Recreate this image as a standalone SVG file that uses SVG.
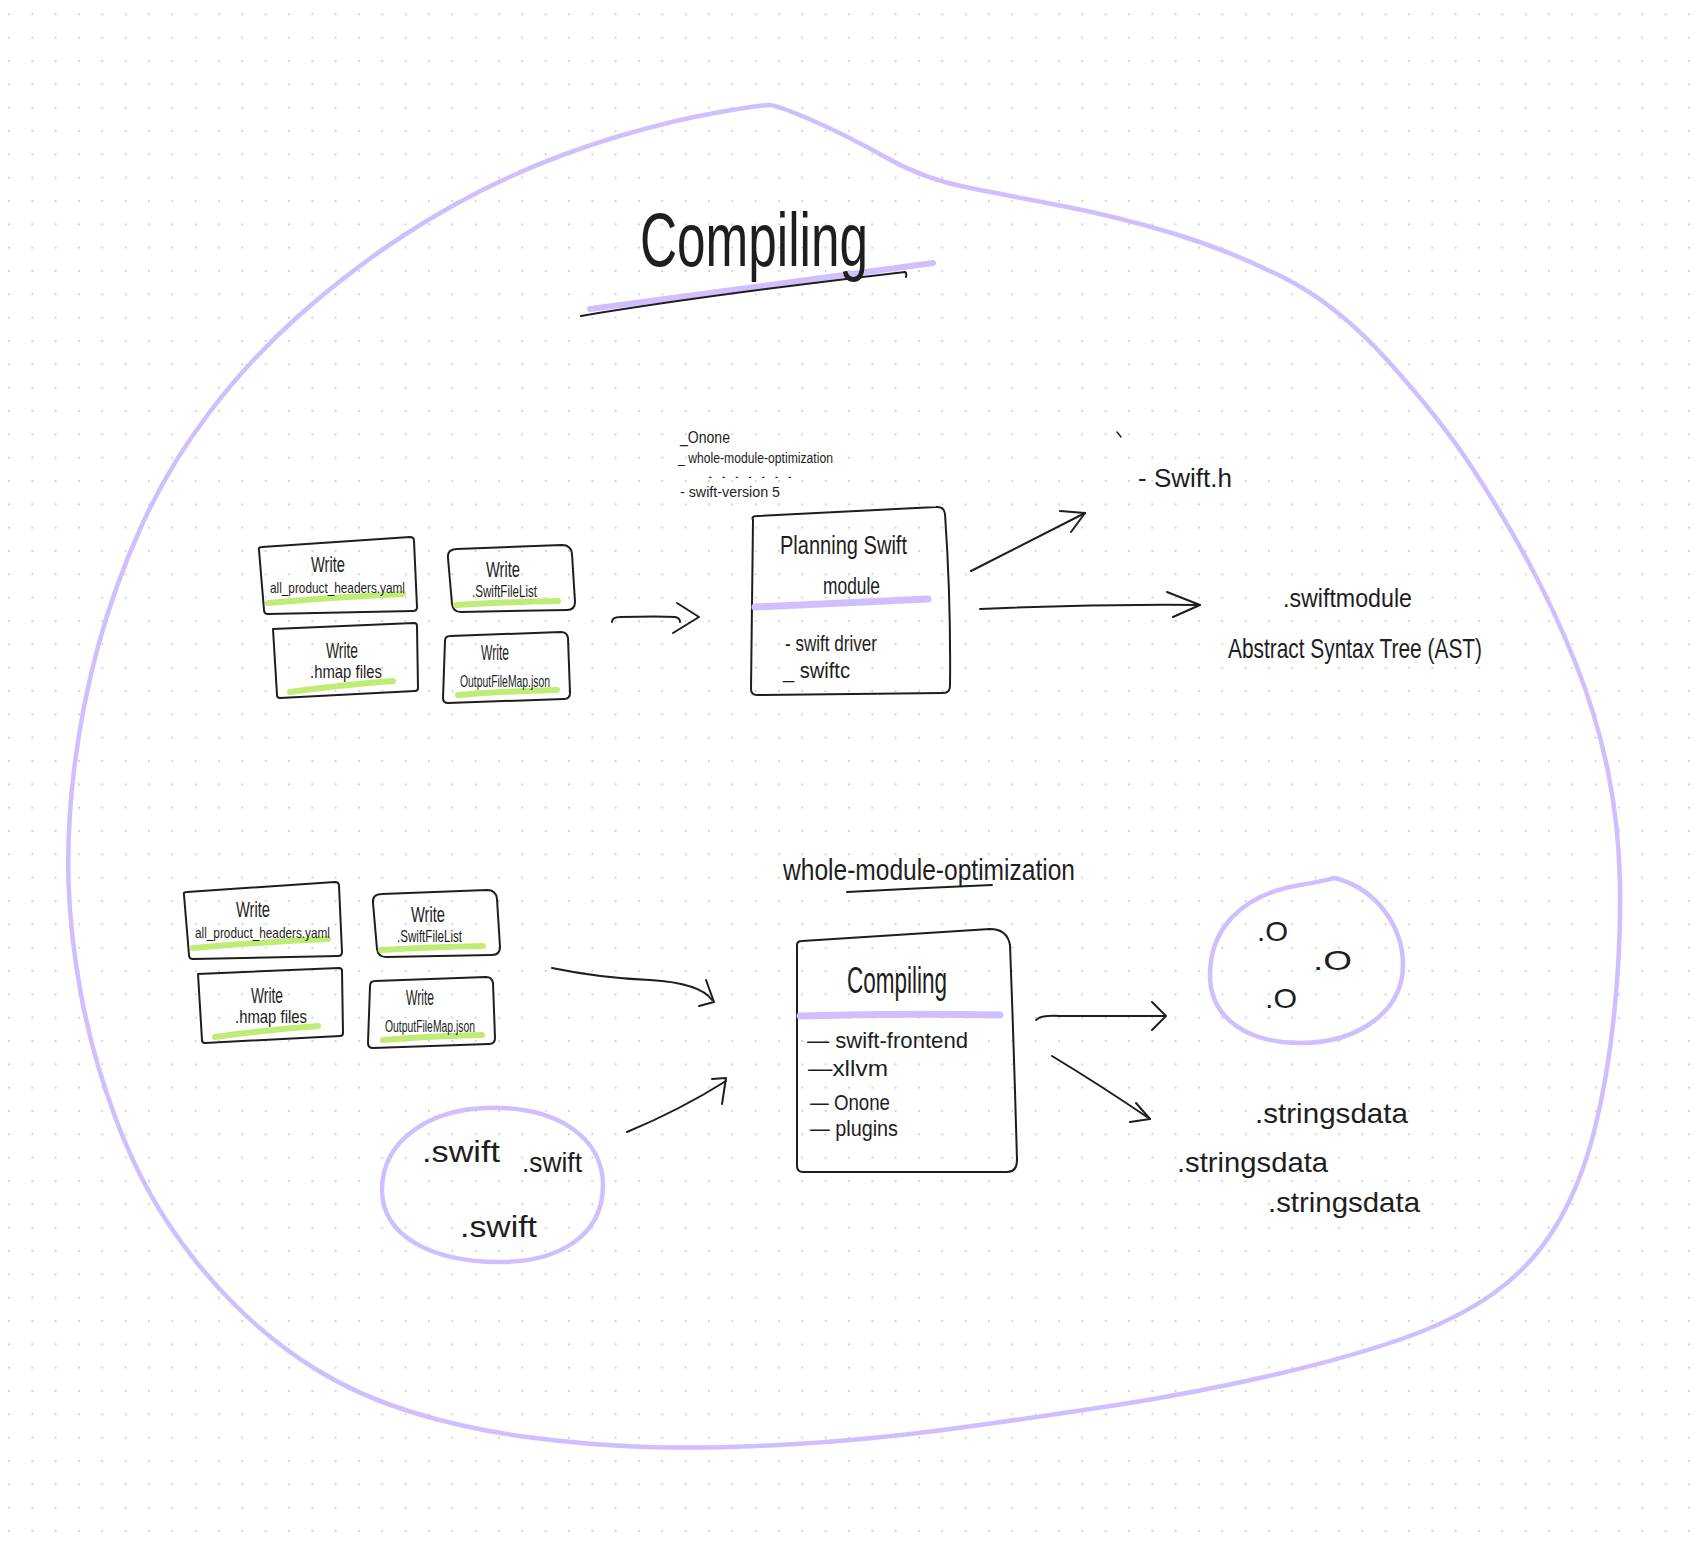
<svg xmlns="http://www.w3.org/2000/svg" width="1704" height="1544" viewBox="0 0 1704 1544">
<defs>
<pattern id="dots" x="8" y="13.333" width="23.3333" height="23.3333" patternUnits="userSpaceOnUse"><circle cx="1" cy="1" r="1.1" fill="#cfcfcf"/></pattern>
</defs>
<style>
.t{font-family:"Liberation Sans","DejaVu Sans",sans-serif;fill:#1e1e1e}
.m{text-anchor:middle}
.box{fill:none;stroke:#1e1e1e;stroke-width:2;stroke-linejoin:round;stroke-linecap:round}
.hg{fill:none;stroke:#c0eb75;stroke-width:6;stroke-linecap:round}
.hp{fill:none;stroke:#d0bfff;stroke-width:7;stroke-linecap:round}
.blob{fill:none;stroke:#d0bfff;stroke-width:4.5;stroke-linecap:round;stroke-linejoin:round}
.conn path{fill:none;stroke:#1e1e1e;stroke-width:2;stroke-linecap:round;stroke-linejoin:round}
.ln{fill:none;stroke:#1e1e1e;stroke-width:2;stroke-linecap:round}
</style>
<rect width="1704" height="1544" fill="#ffffff"/>
<rect width="1704" height="1544" fill="url(#dots)"/>

<g id="outline">
<path class="blob" d="M769 105 Q777 105 812.5 120.5 Q848 136 886 157.5 Q924 179 967.5 187.5 Q1011 196 1065 206.5 Q1119 217 1173.5 233.5 Q1228 250 1282.5 277 Q1337 304 1388.5 361.5 Q1440 419 1470 464.5 Q1500 510 1527 559.5 Q1554 609 1575.5 663 Q1597 717 1608 771.5 Q1619 826 1620 885.5 Q1621 945 1614.5 1010.5 Q1608 1076 1594.5 1130 Q1581 1184 1556.5 1225 Q1532 1266 1494 1293 Q1456 1320 1401.5 1339 Q1347 1358 1271 1375.5 Q1195 1393 1113.5 1405.5 Q1032 1418 950.5 1429 Q869 1440 787.5 1444.5 Q706 1449 646.5 1447 Q587 1445 527 1437 Q467 1429 413 1412.5 Q359 1396 315.5 1369 Q272 1342 234 1304 Q196 1266 166 1220 Q136 1174 114 1114 Q92 1054 81 994.5 Q70 935 68.5 880.5 Q67 826 74.5 766 Q82 706 98 646.5 Q114 587 141 527 Q168 467 209 413 Q250 359 299 315.5 Q348 272 402 236.5 Q456 201 510.5 176.5 Q565 152 619.5 136 Q674 120 717.5 112.5 Q761 105 769 105"/>
</g>

<g id="title">
<path class="hp" style="stroke-width:6" d="M590 309 Q760 286 933 263"/>
<path class="ln" d="M581 316 Q700 296 905 272 Q907 273 906 277"/>
<text class="t" x="640" y="266" font-size="76" textLength="228" lengthAdjust="spacingAndGlyphs">Compiling</text>
</g>

<g id="flags">
<text class="t" x="680" y="443" font-size="16" textLength="50" lengthAdjust="spacingAndGlyphs">_Onone</text>
<text class="t" x="678" y="463" font-size="14" textLength="155" lengthAdjust="spacingAndGlyphs">_ whole-module-optimization</text>
<text class="t" x="707" y="478" font-size="11" textLength="86" lengthAdjust="spacingAndGlyphs">. . . . . . .</text>
<text class="t" x="680" y="497" font-size="15" textLength="100" lengthAdjust="spacingAndGlyphs">- swift-version 5</text>
</g>

<g id="writes-top">
<g id="w1-headers">
<path class="box" d="M259 550 Q258 547 262 547 L410 537 Q414 537 414 541 L417 607 Q417 611 413 611 L268 614 Q264 614 264 610 Z"/>
<path class="hg" d="M268 603 Q335 597 403 594"/>
<text class="t m" x="328" y="572" font-size="22" textLength="34" lengthAdjust="spacingAndGlyphs">Write</text>
<text class="t" x="270" y="593" font-size="15" textLength="135" lengthAdjust="spacingAndGlyphs">all_product_headers.yaml</text>
</g>
<g id="w1-filelist">
<path class="box" d="M457 549 L562 545 Q571 545 572 554 L575 602 Q575 610 567 610 L461 612 Q453 612 452 604 L448 558 Q447 549 457 549 Z"/>
<path class="hg" d="M456 605 Q505 602 558 601"/>
<text class="t m" x="503" y="577" font-size="22" textLength="34" lengthAdjust="spacingAndGlyphs">Write</text>
<text class="t" x="472" y="597" font-size="17" textLength="65" lengthAdjust="spacingAndGlyphs">.SwiftFileList</text>
</g>
<g id="w1-hmap">
<path class="box" d="M273 629 L414 623 Q417 623 417 626 L418 688 Q418 691 415 691 L280 698 Q277 698 277 695 Z"/>
<path class="hg" d="M290 692 Q340 685 393 681"/>
<text class="t m" x="342" y="658" font-size="22" textLength="32" lengthAdjust="spacingAndGlyphs">Write</text>
<text class="t" x="310" y="678" font-size="19" textLength="72" lengthAdjust="spacingAndGlyphs">.hmap  files</text>
</g>
<g id="w1-outputmap">
<path class="box" d="M450 636 L561 632 Q567 632 568 638 L570 693 Q570 699 564 699 L448 703 Q443 703 443 698 L445 641 Q445 636 450 636 Z"/>
<path class="hg" d="M458 695 Q505 691 557 690"/>
<text class="t m" x="495" y="660" font-size="22" textLength="28" lengthAdjust="spacingAndGlyphs">Write</text>
<text class="t" x="460" y="687" font-size="16" textLength="90" lengthAdjust="spacingAndGlyphs">OutputFileMap.json</text>
</g>
</g>

<g id="writes-bottom" transform="translate(-75,345)">
<g id="w2-headers">
<path class="box" d="M259 550 Q258 547 262 547 L410 537 Q414 537 414 541 L417 607 Q417 611 413 611 L268 614 Q264 614 264 610 Z"/>
<path class="hg" d="M268 603 Q335 597 403 594"/>
<text class="t m" x="328" y="572" font-size="22" textLength="34" lengthAdjust="spacingAndGlyphs">Write</text>
<text class="t" x="270" y="593" font-size="15" textLength="135" lengthAdjust="spacingAndGlyphs">all_product_headers.yaml</text>
</g>
<g id="w2-filelist">
<path class="box" d="M457 549 L562 545 Q571 545 572 554 L575 602 Q575 610 567 610 L461 612 Q453 612 452 604 L448 558 Q447 549 457 549 Z"/>
<path class="hg" d="M456 605 Q505 602 558 601"/>
<text class="t m" x="503" y="577" font-size="22" textLength="34" lengthAdjust="spacingAndGlyphs">Write</text>
<text class="t" x="472" y="597" font-size="17" textLength="65" lengthAdjust="spacingAndGlyphs">.SwiftFileList</text>
</g>
<g id="w2-hmap">
<path class="box" d="M273 629 L414 623 Q417 623 417 626 L418 688 Q418 691 415 691 L280 698 Q277 698 277 695 Z"/>
<path class="hg" d="M290 692 Q340 685 393 681"/>
<text class="t m" x="342" y="658" font-size="22" textLength="32" lengthAdjust="spacingAndGlyphs">Write</text>
<text class="t" x="310" y="678" font-size="19" textLength="72" lengthAdjust="spacingAndGlyphs">.hmap  files</text>
</g>
<g id="w2-outputmap">
<path class="box" d="M450 636 L561 632 Q567 632 568 638 L570 693 Q570 699 564 699 L448 703 Q443 703 443 698 L445 641 Q445 636 450 636 Z"/>
<path class="hg" d="M458 695 Q505 691 557 690"/>
<text class="t m" x="495" y="660" font-size="22" textLength="28" lengthAdjust="spacingAndGlyphs">Write</text>
<text class="t" x="460" y="687" font-size="16" textLength="90" lengthAdjust="spacingAndGlyphs">OutputFileMap.json</text>
</g>
</g>

<g id="planning">
<path class="box" d="M753 520 Q751 516 757 516 L936 507 Q944 506 945 514 Q951 600 950 686 Q950 693 943 693 L757 695 Q751 695 751 689 Z"/>
<path class="hp" d="M755 607 L928 599"/>
<text class="t" x="780" y="554" font-size="26" textLength="127" lengthAdjust="spacingAndGlyphs">Planning  Swift</text>
<text class="t" x="823" y="594" font-size="24" textLength="57" lengthAdjust="spacingAndGlyphs">module</text>
<text class="t" x="785" y="651" font-size="22" textLength="92" lengthAdjust="spacingAndGlyphs">- swift driver</text>
<text class="t" x="783" y="678" font-size="22" textLength="67" lengthAdjust="spacingAndGlyphs">_ swiftc</text>
</g>

<g id="swift-h">
<path class="ln" style="stroke-width:1.5" d="M1117 432 L1121 437"/>
<text class="t" x="1138" y="487" font-size="26" textLength="94" lengthAdjust="spacingAndGlyphs">- Swift.h</text>
</g>

<g id="swiftmodule">
<text class="t" x="1283" y="607" font-size="26" textLength="129" lengthAdjust="spacingAndGlyphs">.swiftmodule</text>
<text class="t" x="1228" y="658" font-size="28" textLength="254" lengthAdjust="spacingAndGlyphs">Abstract  Syntax  Tree  (AST)</text>
</g>

<g id="wmo-label">
<text class="t" x="783" y="880" font-size="30" textLength="292" lengthAdjust="spacingAndGlyphs">whole-module-optimization</text>
<path class="ln" d="M847 892 Q920 888 992 885"/>
</g>

<g id="compiling">
<path class="box" d="M797 945 Q797 941 802 941 L990 929 Q1007 929 1010 945 Q1014 1050 1017 1160 Q1017 1172 1007 1172 L803 1172 Q797 1172 797 1166 Z"/>
<path class="hp" d="M800 1016 Q900 1013 1000 1015"/>
<text class="t" x="847" y="993" font-size="36" textLength="100" lengthAdjust="spacingAndGlyphs">Compiling</text>
<text class="t" x="807" y="1048" font-size="22" textLength="161" lengthAdjust="spacingAndGlyphs">— swift-frontend</text>
<text class="t" x="808" y="1076" font-size="22" textLength="80" lengthAdjust="spacingAndGlyphs">—xllvm</text>
<text class="t" x="810" y="1110" font-size="22" textLength="80" lengthAdjust="spacingAndGlyphs">— Onone</text>
<text class="t" x="810" y="1136" font-size="22" textLength="88" lengthAdjust="spacingAndGlyphs">— plugins</text>
</g>

<g id="swift-files">
<path class="blob" d="M485 1108 C560 1105 603 1140 603 1185 C603 1235 560 1262 500 1262 C430 1262 382 1235 382 1190 C382 1140 430 1110 485 1108 Z"/>
<text class="t" x="422" y="1162" font-size="30" textLength="78" lengthAdjust="spacingAndGlyphs">.swift</text>
<text class="t" x="522" y="1172" font-size="28" textLength="60" lengthAdjust="spacingAndGlyphs">.swift</text>
<text class="t" x="460" y="1237" font-size="30" textLength="77" lengthAdjust="spacingAndGlyphs">.swift</text>
</g>

<g id="object-files">
<path class="blob" d="M1335 878 C1380 890 1403 930 1403 965 C1403 1010 1360 1043 1300 1043 C1250 1043 1210 1020 1210 975 C1210 930 1240 895 1300 885 C1315 883 1325 880 1335 878 Z"/>
<text class="t" x="1257" y="941" font-size="28" textLength="31" lengthAdjust="spacingAndGlyphs">.O</text>
<text class="t" x="1313" y="970" font-size="28" textLength="39" lengthAdjust="spacingAndGlyphs">.O</text>
<text class="t" x="1265" y="1008" font-size="28" textLength="32" lengthAdjust="spacingAndGlyphs">.O</text>
</g>

<g id="stringsdata">
<text class="t" x="1255" y="1123" font-size="28" textLength="153" lengthAdjust="spacingAndGlyphs">.stringsdata</text>
<text class="t" x="1177" y="1172" font-size="28" textLength="151" lengthAdjust="spacingAndGlyphs">.stringsdata</text>
<text class="t" x="1268" y="1212" font-size="28" textLength="152" lengthAdjust="spacingAndGlyphs">.stringsdata</text>
</g>

<g id="connectors" class="conn">
<path d="M612 622 Q612 617 620 617 Q660 616 675 617 Q680 618 680 622"/>
<path d="M677 603 L699 617 L673 633"/>
<path d="M971 571 L1085 513"/>
<path d="M1060 511 L1085 513 L1071 532"/>
<path d="M980 609 Q1090 604 1200 605"/>
<path d="M1167 592 L1200 605 L1173 617"/>
<path d="M552 968 Q600 978 650 980 Q700 983 712 1000"/>
<path d="M706 980 L714 1002 L699 1006"/>
<path d="M627 1132 Q680 1110 726 1081"/>
<path d="M712 1079 L726 1078 L722 1104"/>
<path d="M1036 1020 Q1040 1015 1060 1016 L1165 1016"/>
<path d="M1152 1002 L1166 1016 L1152 1030"/>
<path d="M1052 1056 Q1100 1085 1150 1119"/>
<path d="M1136 1103 L1150 1119 L1130 1122"/>
</g>
</svg>
